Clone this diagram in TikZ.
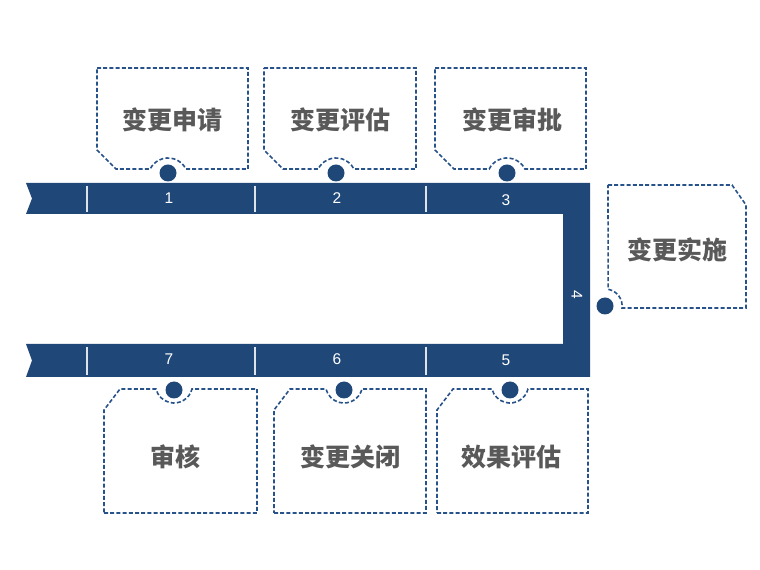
\documentclass[tikz,border=0pt]{standalone}
\usepackage{fontspec}
\setmainfont{Liberation Sans}
\newfontfamily\cjk{Noto Sans CJK SC}
\usetikzlibrary{positioning}
\definecolor{bandblue}{HTML}{1F4778}
\definecolor{cardblue}{HTML}{27528A}
\definecolor{textgray}{HTML}{595959}
\begin{document}
\begin{tikzpicture}[
      x=1pt, y=1pt,
      band/.style={fill=bandblue, draw=none},
      divider/.style={draw=white!85!bandblue, line width=1.6pt},
      card/.style={draw=cardblue, line width=1.6pt, dash pattern=on 4pt off 2.2pt},
      dot/.style={circle, fill=bandblue, minimum size=17pt, inner sep=0pt},
      title/.style={font=\cjk\bfseries\fontsize{25}{25}\selectfont, text=textgray},
      num/.style={font=\fontsize{15.5}{15.5}\selectfont, text=white}
      ]
      \useasboundingbox (0,0) rectangle (760,570);

      % the U shaped band
      \fill[band] (26,387) -- (590,387) -- (590,193) -- (26,193) -- (32,209.5) -- (26,226)
        -- (563,226) -- (563,356) -- (26,356) -- (32,371.5) -- cycle;
      \foreach \x in {87,255,426} {
        \draw[divider] (\x,384) -- (\x,358);
        \draw[divider] (\x,223) -- (\x,195);
      }
      \node[num] (num_1) at (169,371.5) {1};
      \node[num] (num_2) at (337,371.5) {2};
      \node[num] (num_3) at (506,370) {3};
      \node[num, rotate=-90] (num_4) at (577,275) {4};
      \node[num] (num_5) at (506,209.5) {5};
      \node[num] (num_6) at (337,210.5) {6};
      \node[num] (num_7) at (169,210.5) {7};

      % cards above the band
      \foreach \L/\R/\cx/\tx/\n/\txt in {97/248/168/172/1/变更申请, 264/416/336/340/2/变更评估, 435/586/507/512/3/变更审批} {
        \draw[card] (\L,502) -- (\R,502) -- (\R,401) -- (\cx+17.9,401)
          arc[start angle=26.7, end angle=153.3, radius=20] -- (\L+19,401) -- (\L,420) -- cycle;
        \node[dot] (dot_\n) at (\cx,397) {};
        \node[title] (lab_\n) at (\tx,450) {\txt};
      }

      % card on the right
      \draw[card] (608,385) -- (732,385) -- (746,365) -- (746,262) -- (622,262)
        arc[start angle=-6.7, end angle=79.8, radius=17] -- cycle;
      \node[dot] (dot_4) at (605,264) {};
      \node[title] (lab_4) at (677,320) {变更实施};

      % cards below the band
      \foreach \L/\R/\cx/\tx/\n/\txt in {104/257/174/175/7/审核, 274/426/344/350/6/变更关闭, 437/588/510/511/5/效果评估} {
        \draw[card] (\L,57) -- (\R,57) -- (\R,181) -- (\cx+18,181)
          arc[start angle=-14.3, end angle=-165.7, radius=18.6] -- (\L+16,181) -- (\L,160) -- cycle;
        \node[dot] (dot_\n) at (\cx,180) {};
        \node[title] (lab_\n) at (\tx,113) {\txt};
      }
    \end{tikzpicture}
\end{document}
